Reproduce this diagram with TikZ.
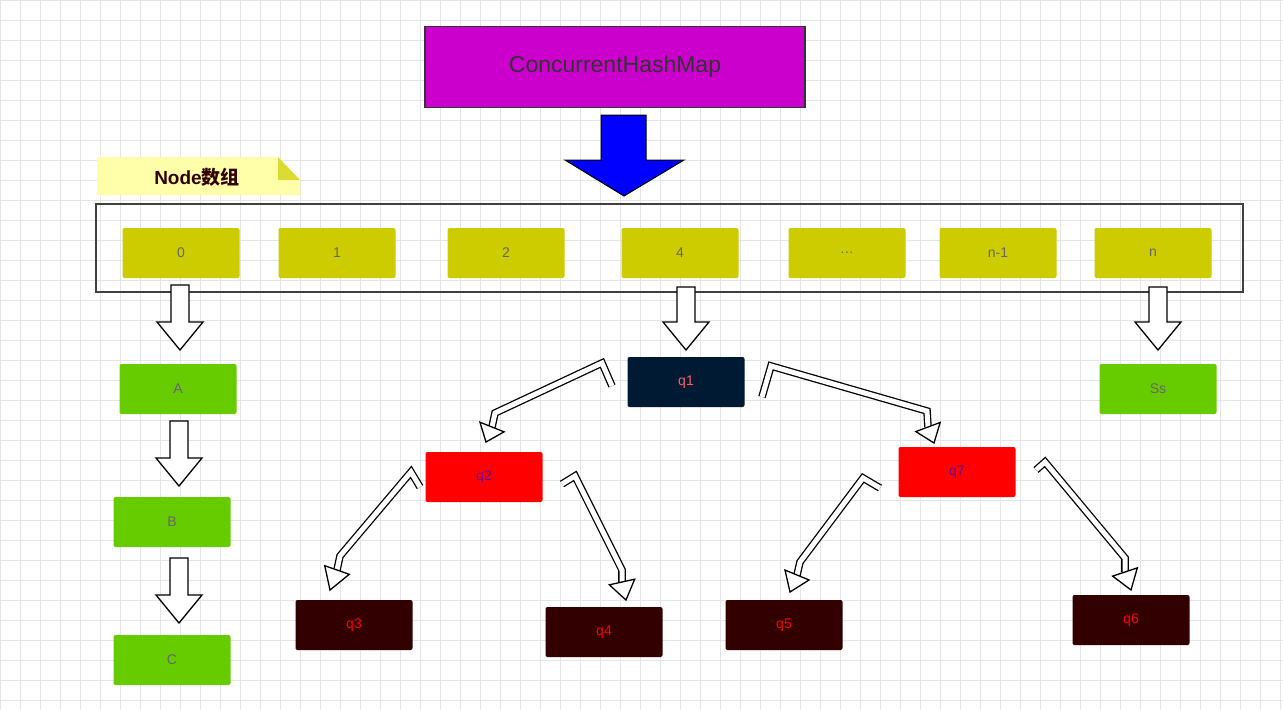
\documentclass[tikz,border=0pt]{standalone}
\usepackage{fontspec}
\setmainfont{Liberation Sans}
\newfontfamily\cjk{Noto Sans CJK SC}
\usetikzlibrary{calc}
\definecolor{cell}{HTML}{CCCC00}
\definecolor{grn}{HTML}{66CC00}
\definecolor{dk}{HTML}{330000}
\definecolor{navy}{HTML}{001A33}
\definecolor{mag}{HTML}{CC00CC}
\definecolor{note}{HTML}{FFFFAA}
\tikzset{
 box/.style={rounded corners=2pt,minimum width=117pt,minimum height=50pt,inner sep=0pt,font=\fontsize{14}{16}\selectfont},
 cellb/.style={box,fill=cell,text=black!60},
 gb/.style={box,fill=grn,text=black!60},
 dkb/.style={box,fill=dk,text=red},
 rb/.style={box,fill=red,text=violet!80!blue},
 shaft/.style={line width=1.3pt,double=white,double distance=5pt,line join=miter},
 hd/.style={draw,line width=1.3pt,fill=white,line join=miter},
}
\newcommand\hollowdown[3]{% x, ytop, ybottom
 \draw[hd] (#1-9,#2) -- (#1+9,#2) -- (#1+9,#3-28) -- (#1+23,#3-28) -- (#1,#3) -- (#1-23,#3-28) -- (#1-9,#3-28) -- cycle;}
\newcommand\bent[5]{% start, corner, diagend, base, tip
 \draw[shaft] #1 -- #2 -- #3 -- #4;
 \draw[hd] ($#4!13pt!90:#5$) -- #5 -- ($#4!13pt!-90:#5$) -- cycle;}
\begin{document}
\begin{tikzpicture}[x=1pt,y=-1pt]
\useasboundingbox (0,0) rectangle (1283,710);
\fill[white] (0,0) rectangle (1283,710);
\draw[black!10,step=20pt] (0,0) grid (1283,710);
% title
\node[draw=black!80,line width=1.5pt,fill=mag,minimum width=380pt,minimum height=81pt,font=\fontsize{23}{26}\selectfont,text=black!80] (chm) at (615,67) {ConcurrentHashMap};
% blue arrow
\draw[fill=blue,line width=1pt] (601,115) -- (646,115) -- (646,160) -- (684,160) -- (624,196) -- (565,160) -- (601,160) -- cycle;
% note
\fill[note] (97,157) -- (278,157) -- (300,180) -- (300,195) -- (97,195) -- cycle;
\fill[cell!70!note] (278,157) -- (300,180) -- (278,180) -- cycle;
\node[font=\fontsize{19}{22}\selectfont\bfseries,text=black!80!red] (lbl) at (197,177) {Node{\cjk 数组}};
% array
\node[draw=black!75,line width=1.8pt,minimum width=1147pt,minimum height=88pt,inner sep=0pt] (arr) at (669.5,248) {};
\foreach \x/\t/\n in {181/0/c0,337/1/c1,506/2/c2,680/4/c4,998/n-1/cn1,1153/n/cn}
 \node[cellb] (\n) at (\x,253) {\t};
\node[cellb] (cd) at (847,253) {.\kern0.5pt.\kern0.5pt.};
% down arrows
\hollowdown{180}{285}{350}
\hollowdown{686}{287}{350}
\hollowdown{1158}{287}{350}
\hollowdown{179}{421}{486}
\hollowdown{179}{558}{623}
% nodes
\node[gb] (A) at (178,389) {A};
\node[gb] (B) at (172,522) {B};
\node[gb] (C) at (172,660) {C};
\node[gb] (Ss) at (1158,389) {Ss};
\node[box,fill=navy,text=red!50!pink] (q1) at (686,382) {q1};
\node[rb] (q2) at (484,477) {q2};
\node[rb] (q7) at (957,472) {q7};
\node[dkb] (q3) at (354,625) {q3};
\node[dkb] (q4) at (604,632) {q4};
\node[dkb] (q5) at (784,625) {q5};
\node[dkb] (q6) at (1131,620) {q6};
% bent arrows
\bent{(612,386)}{(602,363)}{(495,413)}{(492,427)}{(486,442)}
\bent{(762,397)}{(771,366)}{(927,411)}{(928,427)}{(934,443)}
\bent{(562,484)}{(575,476)}{(622,570)}{(622,582)}{(626,600)}
\bent{(880,488)}{(863,478)}{(800,562)}{(797,575)}{(790,592)}
\bent{(1036,470)}{(1045,462)}{(1125,558)}{(1125,572)}{(1131,590)}
\bent{(420,487)}{(411,472)}{(340,556)}{(337,570)}{(330,590)}
\end{tikzpicture}
\end{document}
